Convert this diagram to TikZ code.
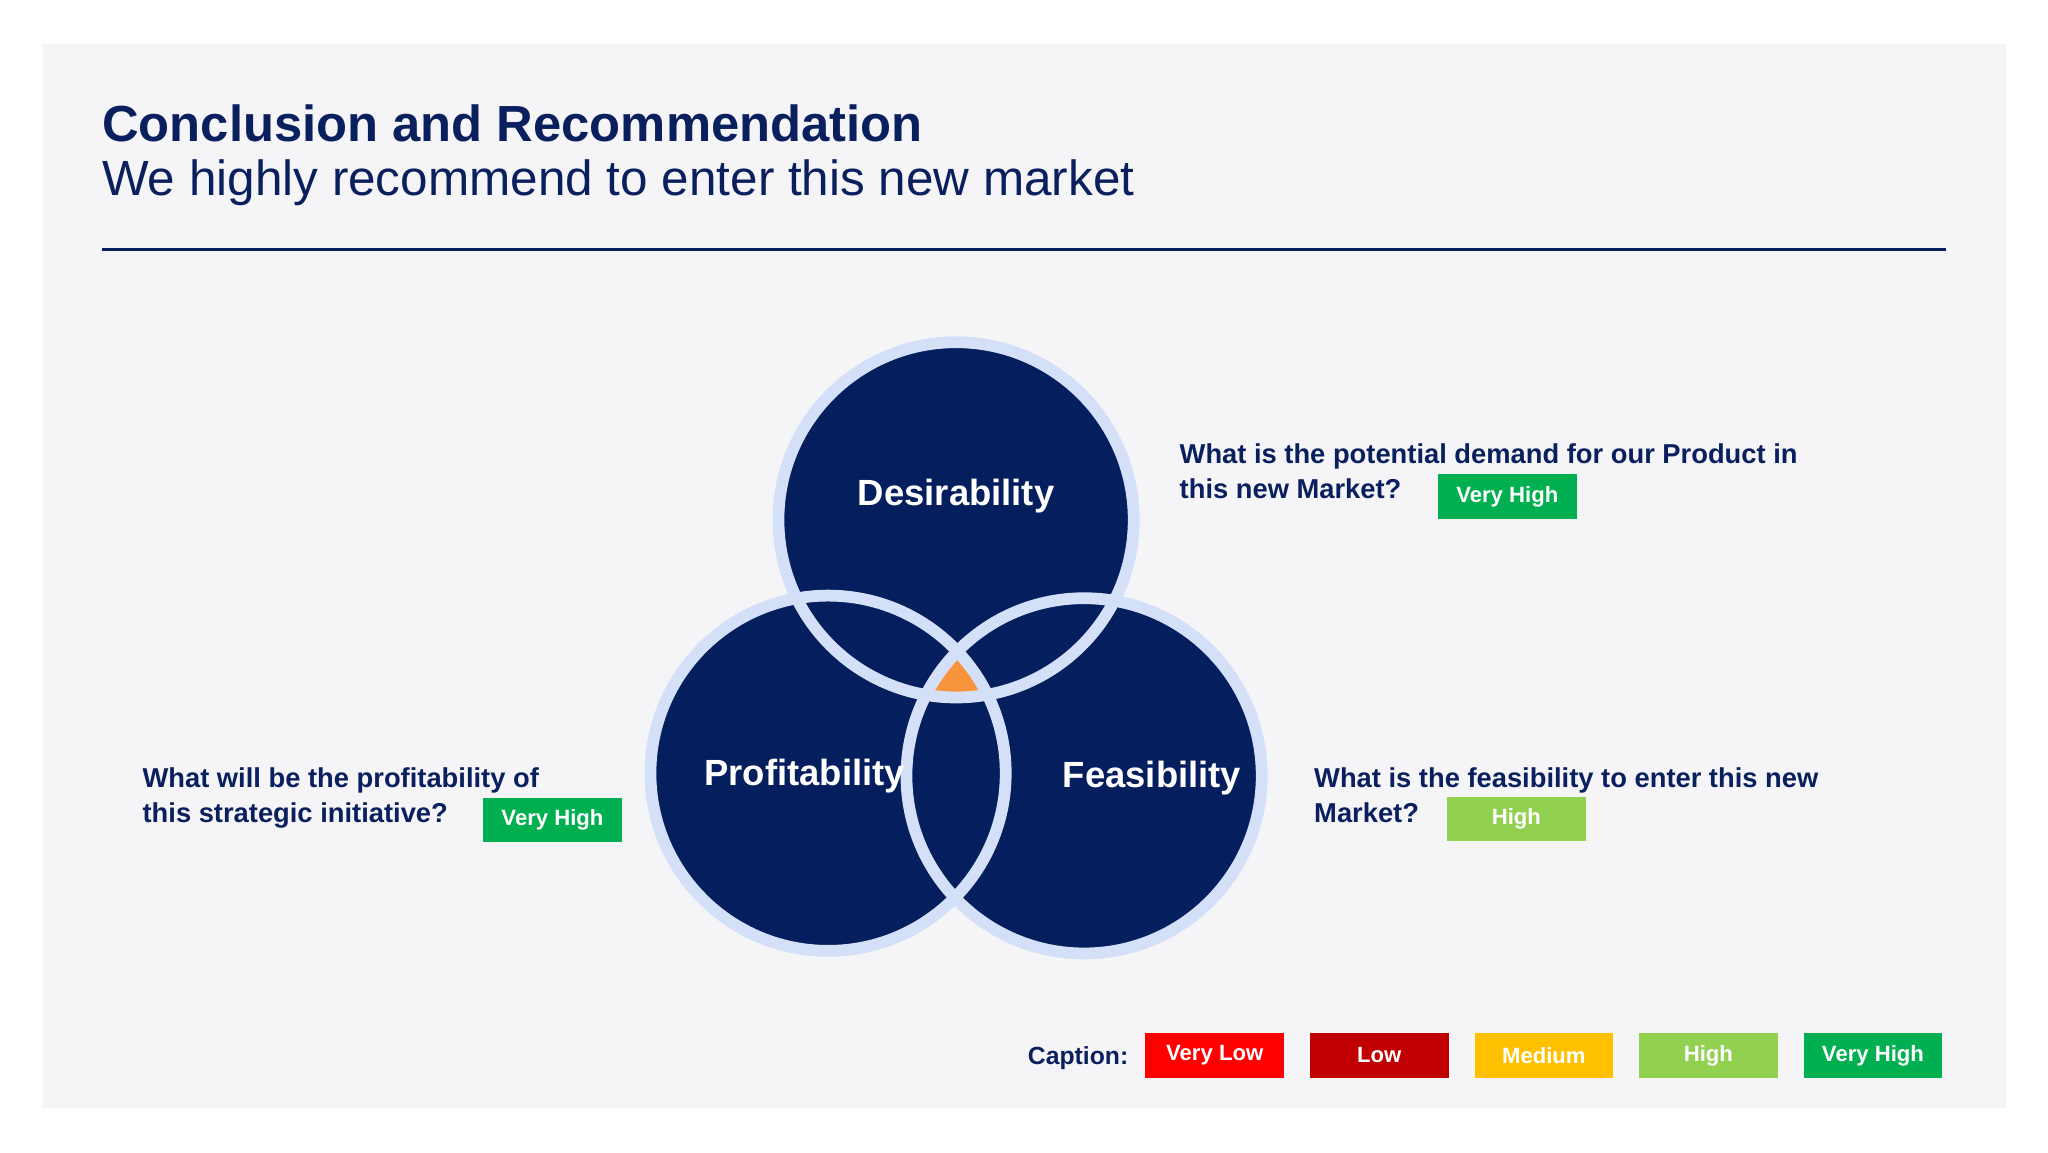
\documentclass[tikz,border=0pt]{standalone}
\usepackage{fontspec}
\setmainfont{Liberation Sans}
\definecolor{navy}{HTML}{0A1F5E}
\definecolor{cnavy}{HTML}{041E5E}
\definecolor{ring}{HTML}{D3E0F7}
\definecolor{panel}{HTML}{F5F5F7}
\definecolor{vgreen}{HTML}{00B050}
\definecolor{lgreen}{HTML}{92D050}
\definecolor{amber}{HTML}{FFC000}
\definecolor{dred}{HTML}{C00000}
\definecolor{orng}{HTML}{F7943C}
\begin{document}
\begin{tikzpicture}[x=1bp,y=-1bp,
  q/.style={anchor=base west,inner sep=0,text=navy,font=\fontsize{21}{25}\selectfont\bfseries},
  badge/.style={minimum width=106bp,minimum height=34bp,inner sep=0,text=white,font=\fontsize{17}{20}\selectfont\bfseries},
  clabel/.style={text=white,font=\fontsize{28}{32}\selectfont\bfseries}]
\useasboundingbox (0,0) rectangle (1568,882);
\fill[white] (0,0) rectangle (1568,882);
\fill[panel] (33,34) rectangle (1536,848);
\node[anchor=base west,inner sep=0,text=navy,font=\fontsize{39}{44}\selectfont\bfseries] (t1) at (78,108) {Conclusion and Recommendation};
\node[anchor=base west,inner sep=0,text=navy,font=\fontsize{38}{44}\selectfont] (t2) at (78,150) {We highly recommend to enter this new market};
\draw[navy,line width=3bp] (78,191) -- (1490,191);
% circles
\fill[cnavy] (732,398) circle (136);
\fill[cnavy] (634,592) circle (136);
\fill[cnavy] (830,594) circle (136);
\begin{scope}
\clip (732,398) circle (136);
\clip (634,592) circle (136);
\fill[orng] (830,594) circle (136);
\end{scope}
\draw[ring,line width=9bp] (732,398) circle (136);
\draw[ring,line width=9bp] (634,592) circle (136);
\draw[ring,line width=9bp] (830,594) circle (136);
\node[clabel] (d) at (732,380) {Desirability};
\node[clabel] (p) at (616,594) {Profitability};
\node[clabel] (f) at (882,596) {Feasibility};
% questions
\node[q] (q1) at (903,355) {What is the potential demand for our Product in};
\node[q] (q1b) at (903,382) {this new Market?};
\node[badge,fill=vgreen] (b1) at (1154,380) {Very High};
\node[q] (q2) at (1006,603) {What is the feasibility to enter this new};
\node[q] (q2b) at (1006,630) {Market?};
\node[badge,fill=lgreen] (b2) at (1161,627) {High};
\node[q] (q3) at (109,603) {What will be the profitability of};
\node[q] (q3b) at (109,630) {this strategic initiative?};
\node[badge,fill=vgreen] (b3) at (423,628) {Very High};
% caption
\node[anchor=base east,inner sep=0,text=navy,font=\fontsize{19}{22}\selectfont\bfseries] (cap) at (864,815) {Caption:};
\node[badge,fill=red] (c1) at (930,808) {Very Low};
\node[badge,fill=dred] (c2) at (1056,808) {Low};
\node[badge,fill=amber] (c3) at (1182,808) {Medium};
\node[badge,fill=lgreen] (c4) at (1308,808) {High};
\node[badge,fill=vgreen] (c5) at (1434,808) {Very High};
\end{tikzpicture}
\end{document}
